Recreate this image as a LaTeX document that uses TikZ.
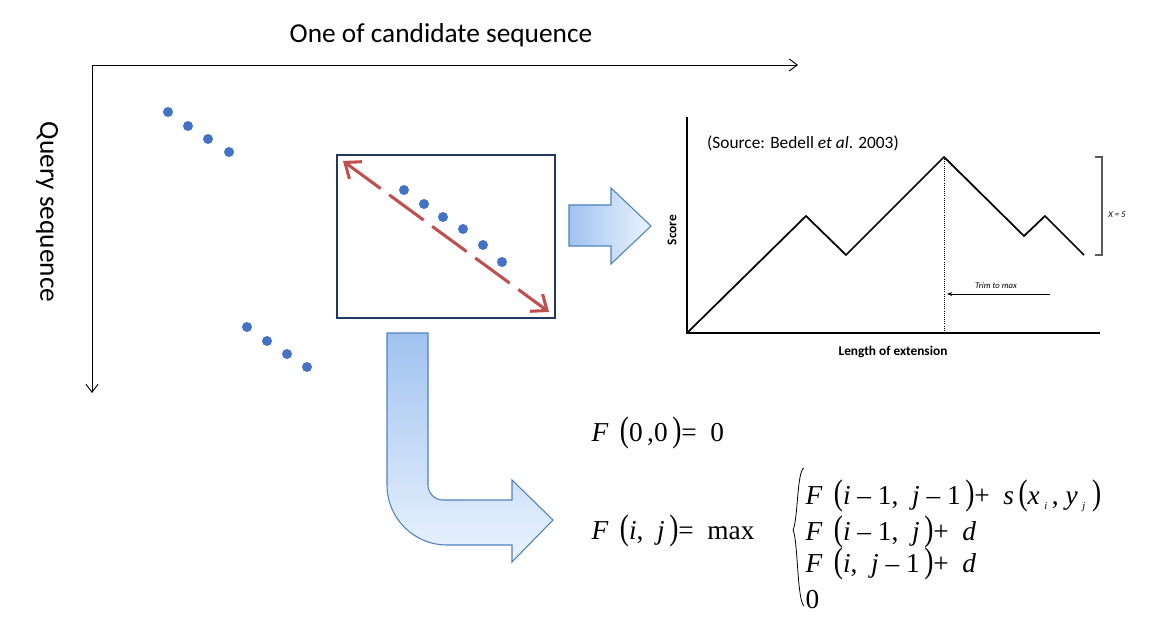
\documentclass[tikz,border=0pt]{standalone}
\usepackage{fontspec}
\setmainfont{Liberation Serif}
\newfontfamily\sansf{Carlito}
\usetikzlibrary{arrows.meta}
\definecolor{dotb}{RGB}{68,114,196}
\definecolor{redar}{RGB}{192,80,77}
\definecolor{navy}{RGB}{31,56,100}
\definecolor{blk}{RGB}{79,129,189}
\definecolor{lb1}{RGB}{160,195,240}
\definecolor{lb2}{RGB}{235,243,253}
\newcommand{\Fi}{\textit{F}}
\newcommand{\lp}{\,\scalebox{1}[1.3]{(}}
\newcommand{\rp}{\scalebox{1}[1.3]{)}}
\newcommand{\sbs}[1]{\raisebox{-4pt}{\fontsize{8}{8}\selectfont\textit{#1}}}
\begin{document}
\begin{tikzpicture}[x=0.75pt,y=-0.75pt,
  dot/.style={circle,fill=dotb,inner sep=0pt,minimum size=7.5pt},
  blockarrow/.style={draw=blk,line width=0.8pt},
  lbl/.style={font=\sansf},
  eq/.style={anchor=west,inner sep=1pt,font=\fontsize{20.5}{22}\selectfont}]
\useasboundingbox (0,0) rectangle (1150,624);
% axes
\node[lbl,font=\sansf\fontsize{20.5}{22}\selectfont] (title) at (441,35) {One of candidate sequence};
\node[lbl,font=\sansf\fontsize{20.5}{22}\selectfont,rotate=-90] (query) at (47,212) {Query sequence};
\coordinate (o) at (92,65); \coordinate (xe) at (798,65); \coordinate (ye) at (92,393);
\draw[-{Straight Barb[length=6pt,width=9pt]},line width=0.7pt] (o) -- (xe);
\draw[-{Straight Barb[length=6pt,width=9pt]},line width=0.7pt] (o) -- (ye);
% dots
\foreach \x/\y [count=\i] in {168/112,188/126,208/139,229/152,247/327,267/341,287/354,307/367,404/190,424/204,443/217,463/229,483/245,502/262}
  \node[dot] (d\i) at (\x,\y) {};
% box
\draw[navy,line width=1.6pt] (337,155) rectangle (555,318);
\coordinate (ra) at (343,161); \coordinate (rb) at (549,312);
\draw[redar,line width=2.3pt,dash pattern=on 32pt off 8pt,{Straight Barb[length=10pt,width=16pt]}-{Straight Barb[length=10pt,width=16pt]}] (ra) -- (rb);
% right block arrow
\draw[blockarrow,left color=lb1,right color=lb2] (569,205) -- (611,205) -- (611,188) -- (651,226) -- (611,264) -- (611,246) -- (569,246) -- cycle;
% L arrow
\draw[blockarrow,top color=lb1,bottom color=lb2] (387,333) -- (428,333) -- (428,485) arc (180:90:15) -- (512,500) -- (512,480) -- (553,520) -- (512,562) -- (512,545) -- (447,545) arc (90:180:60) -- cycle;
% graph
\draw[line width=1.5pt] (687,117) -- (687,333) -- (1100,333);
\draw[line width=1.3pt,line join=miter] (687,333) -- (806,216) -- (846,255) -- (944,157) -- (1024,236) -- (1045,216) -- (1084,255);
\draw[densely dotted,line width=0.6pt] (944,157) -- (944,333);
\node[lbl,font=\sansf\fontsize{13}{14}\selectfont] (src) at (803,143) {(Source: Bedell \textit{et al}. 2003)};
\draw[gray!70!black,line width=0.8pt] (1095,157) -- (1102,157) -- (1102,255) -- (1095,255);
\node[lbl,font=\sansf\fontsize{6.5}{7}\selectfont\itshape] (x5) at (1117,215) {X = 5};
\node[lbl,font=\sansf\fontsize{6.5}{7}\selectfont\itshape] (trim) at (996,286) {Trim to max};
\coordinate (ta) at (1050,294); \coordinate (tb) at (947,294);
\draw[-{Stealth[length=4pt]},line width=0.6pt] (ta) -- (tb);
\node[lbl,font=\sansf\bfseries\fontsize{10}{11}\selectfont,rotate=90] (score) at (672,230) {Score};
\node[lbl,font=\sansf\bfseries\fontsize{10}{11}\selectfont] (len) at (893,352) {Length of extension};
% equations
\node[eq] (e1) at (590,433) {\Fi\ \lp0\,,0\,\rp= \ 0};
\node[eq] (e2) at (590,531) {\Fi\ \lp\textit{i},\ \ \textit{j}\,\rp= \ max};
\draw[line width=0.6pt] (804,468) .. controls (797,470) and (798,520) .. (793,530) .. controls (798,540) and (797,600) .. (804,606);
\node[eq] (c1) at (804,496) {\Fi\ \lp\textit{i} – 1,\ \ \textit{j} – 1\,\rp+\ \ \textit{s}\lp\textit{x}\,\sbs{i}\,,\ \textit{y}\,\sbs{j}\ \rp};
\node[eq] (c2) at (804,532) {\Fi\ \lp\textit{i} – 1,\ \ \textit{j}\,\rp+\ \ \textit{d}};
\node[eq] (c3) at (804,564) {\Fi\ \lp\textit{i},\ \ \textit{j} – 1\,\rp+\ \ \textit{d}};
\node[eq] (c4) at (804,600) {0};
\end{tikzpicture}
\end{document}
